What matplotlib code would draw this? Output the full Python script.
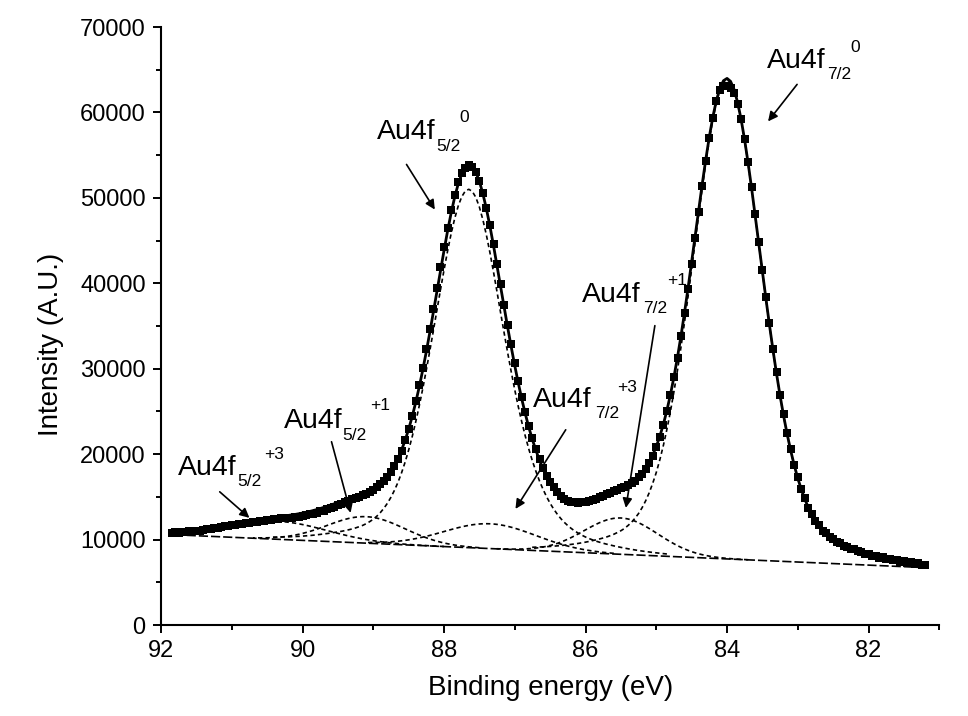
import numpy as np
import matplotlib
matplotlib.use("Agg")
import matplotlib.pyplot as plt
from matplotlib.ticker import MultipleLocator, FormatStrFormatter

plt.rcParams['font.family'] = ['Liberation Sans', 'DejaVu Sans']

# ---------------- data ----------------
energy_start = 81.20      # eV, first sample of the spectrum
energy_step = 0.05        # eV, instrument step
n_points = 214
energy = np.round(energy_start + energy_step * np.arange(n_points), 2)

intensity_data = [
    6980, 7060, 7240, 7150, 7320, 7290, 7460, 7430, 7620, 7560,
    7760, 7720, 7930, 7900, 8110, 8120, 8330, 8350, 8580, 8640,
    8850, 8920, 9180, 9260, 9560, 9700, 10060, 10250, 10740, 11050,
    11680, 12170, 12990, 13750, 14830, 15880, 17300, 18750, 20550, 22420,
    24650, 26950, 29600, 32350, 35300, 38400, 41600, 44850, 48100, 51250,
    54200, 56900, 59200, 61000, 62300, 62900, 63100, 63050, 62600, 61300,
    59400, 57050, 54300, 51400, 48400, 45300, 42300, 39300, 36500, 33800,
    31300, 29000, 26900, 25050, 23400, 22000, 20800, 19800, 18950, 18300,
    17700, 17300, 16900, 16650, 16400, 16200, 16000, 15850, 15700, 15500,
    15350, 15150, 14950, 14800, 14650, 14500, 14400, 14350, 14300, 14350,
    14400, 14550, 14800, 15100, 15550, 16100, 16750, 17500, 18400, 19400,
    20600, 21900, 23350, 24950, 26700, 28600, 30650, 32850, 35150, 37500,
    39900, 42300, 44650, 46850, 48850, 50600, 52000, 53050, 53650, 53800,
    53550, 52900, 51850, 50350, 48550, 46500, 44250, 41900, 39450, 37000,
    34600, 32300, 30100, 28050, 26200, 24450, 22950, 21600, 20400, 19450,
    18600, 17900, 17350, 16850, 16450, 16100, 15800, 15600, 15350, 15200,
    15000, 14850, 14700, 14500, 14350, 14200, 14050, 13850, 13700, 13600,
    13400, 13300, 13150, 13050, 12950, 12850, 12800, 12700, 12680, 12580,
    12560, 12480, 12470, 12400, 12380, 12300, 12290, 12200, 12180, 12090,
    12060, 11960, 11930, 11840, 11800, 11700, 11680, 11580, 11540, 11440,
    11400, 11310, 11280, 11180, 11160, 11060, 11050, 10970, 10960, 10880,
    10890, 10810, 10830, 10760,
]

fit_total = [
    7075, 7128, 7181, 7229, 7287, 7346, 7409, 7479, 7547, 7615,
    7703, 7781, 7869, 7959, 8057, 8166, 8274, 8392, 8531, 8659,
    8797, 8946, 9105, 9293, 9491, 9729, 9978, 10276, 10654, 11072,
    11591, 12180, 12898, 13736, 14715, 15863, 17177, 18695, 20404, 22332,
    24461, 26829, 29389, 32158, 35097, 38176, 41356, 44595, 47815, 50955,
    53957, 56713, 59149, 61158, 62680, 63634, 63982, 63716, 62845, 61411,
    59496, 57161, 54517, 51644, 48637, 45564, 42489, 39491, 36611, 33891,
    31360, 29058, 26961, 25118, 23489, 22087, 20883, 19897, 19059, 18379,
    17826, 17392, 17051, 16755, 16529, 16313, 16148, 15998, 15822, 15663,
    15482, 15313, 15142, 14974, 14824, 14667, 14551, 14477, 14434, 14446,
    14523, 14663, 14884, 15179, 15589, 16093, 16701, 17435, 18294, 19270,
    20422, 21679, 23096, 24678, 26418, 28310, 30353, 32539, 34816, 37187,
    39595, 42032, 44394, 46636, 48682, 50466, 51935, 53012, 53657, 53834,
    53544, 52789, 51612, 50057, 48207, 46111, 43833, 41467, 39044, 36637,
    34283, 32021, 29875, 27877, 26056, 24391, 22919, 21611, 20480, 19497,
    18681, 17982, 17401, 16924, 16527, 16198, 15926, 15707, 15511, 15338,
    15197, 15047, 14903, 14763, 14619, 14474, 14332, 14192, 14050, 13906,
    13768, 13636, 13508, 13394, 13287, 13194, 13105, 13025, 12952, 12887,
    12825, 12768, 12711, 12655, 12599, 12543, 12483, 12422, 12357, 12291,
    12218, 12146, 12070, 11991, 11911, 11830, 11749, 11668, 11588, 11506,
    11432, 11360, 11291, 11227, 11167, 11110, 11060, 11014, 10973, 10936,
    10905, 10878, 10857, 10841,
]

background_energy = [81.20, 91.85]
background_intensity = [6720, 10576]

# fitted components (including background), each starting at the given energy
comp_7_2_0_start = 81.20
comp_7_2_0 = [
    7055, 7108, 7161, 7209, 7267, 7326, 7389, 7457, 7525, 7593,
    7681, 7759, 7847, 7935, 8033, 8142, 8250, 8368, 8506, 8634,
    8772, 8921, 9079, 9267, 9465, 9703, 9951, 10249, 10627, 11045,
    11563, 12152, 12870, 13708, 14686, 15834, 17132, 18650, 20358, 22286,
    24414, 26782, 29341, 32109, 35047, 38125, 41303, 44541, 47759, 50897,
    53885, 56634, 59062, 61060, 62568, 63506, 63834, 63542, 62640, 61168,
    59206, 56815, 54103, 51151, 48049, 44867, 41665, 38523, 35481, 32579,
    29847, 27326, 24994, 22902, 21010, 19338, 17856, 16594, 15482, 14540,
    13738, 13056, 12504, 12022, 11640, 11298, 11037, 10825, 10623, 10461,
    10309, 10187, 10075, 9973, 9881, 9779, 9698, 9626, 9554, 9492,
    9440, 9388, 9346, 9294, 9262, 9230, 9199, 9172, 9150, 9128,
    9116, 9099, 9082,
]

comp_5_2_0_start = 84.85
comp_5_2_0 = [
    8312, 8355, 8398, 8446, 8494, 8547, 8600, 8658, 8721, 8784,
    8852, 8925, 9003, 9087, 9175, 9263, 9361, 9459, 9567, 9685,
    9813, 9961, 10119, 10298, 10506, 10734, 10992, 11290, 11628, 12016,
    12464, 12982, 13570, 14239, 15007, 15875, 16843, 17961, 19179, 20547,
    22065, 23733, 25551, 27520, 29638, 31856, 34175, 36543, 38951, 41299,
    43547, 45605, 47413, 48921, 50049, 50757, 51005, 50794, 50122, 49030,
    47558, 45786, 43764, 41552, 39240, 36858, 34476, 32134, 29863, 27691,
    25659, 23777, 22035, 20473, 19061, 17819, 16717, 15776, 14954, 14252,
    13660, 13158, 12736, 12384, 12102, 11860, 11658, 11506, 11364, 11243,
    11141, 11049, 10967, 10895, 10833, 10771, 10709, 10657, 10605, 10553,
    10511, 10469, 10438, 10406, 10379, 10357, 10340, 10323, 10311, 10300,
    10293, 10286, 10284,
]

comp_7_2_p1_start = 83.70
comp_7_2_p1 = [
    7636, 7659, 7682, 7708, 7736, 7766, 7800, 7839, 7883, 7934,
    7993, 8061, 8140, 8229, 8333, 8450, 8584, 8734, 8901, 9086,
    9288, 9508, 9741, 9988, 10244, 10507, 10773, 11037, 11294, 11539,
    11766, 11972, 12151, 12299, 12412, 12488, 12527, 12525, 12485, 12408,
    12296, 12153, 11983, 11792, 11583, 11362, 11135, 10905, 10678, 10458,
    10247, 10050, 9867, 9701, 9552, 9421, 9308, 9210, 9129, 9061,
    9008, 8965, 8934, 8911, 8896, 8888, 8886, 8888, 8894, 8903,
    8913, 8926, 8940,
]

comp_5_2_p1_start = 87.50
comp_5_2_p1 = [
    9046, 9078, 9112, 9151, 9195, 9244, 9300, 9362, 9433, 9513,
    9602, 9701, 9812, 9934, 10067, 10212, 10368, 10532, 10706, 10887,
    11073, 11262, 11450, 11635, 11816, 11986, 12144, 12286, 12410, 12513,
    12593, 12649, 12680, 12685, 12665, 12621, 12555, 12467, 12361, 12239,
    12105, 11961, 11812, 11660, 11507, 11357, 11212, 11074, 10946, 10827,
    10719, 10622, 10536, 10461, 10398, 10345, 10302, 10267, 10241, 10221,
    10208, 10201, 10198, 10200, 10204,
]

comp_7_2_p3_start = 85.60
comp_7_2_p3 = [
    8390, 8426, 8465, 8507, 8554, 8605, 8662, 8724, 8794, 8868,
    8950, 9040, 9136, 9241, 9353, 9472, 9599, 9732, 9872, 10017,
    10165, 10317, 10470, 10623, 10774, 10922, 11065, 11201, 11329, 11445,
    11549, 11641, 11717, 11777, 11820, 11847, 11856, 11849, 11825, 11785,
    11730, 11662, 11583, 11492, 11392, 11285, 11173, 11058, 10941, 10824,
    10708, 10596, 10487, 10385, 10288, 10197, 10114, 10038, 9969, 9909,
    9855, 9809, 9772, 9739, 9713, 9692, 9677, 9666, 9660, 9657,
    9657,
]

comp_5_2_p3_start = 88.00
comp_5_2_p3 = [
    9189, 9209, 9230, 9251, 9273, 9296, 9320, 9344, 9370, 9398,
    9427, 9458, 9491, 9527, 9567, 9608, 9653, 9702, 9754, 9810,
    9871, 9936, 10006, 10081, 10161, 10245, 10335, 10428, 10525, 10626,
    10730, 10836, 10944, 11053, 11162, 11269, 11375, 11478, 11577, 11672,
    11759, 11840, 11912, 11976, 12030, 12075, 12110, 12133, 12146, 12148,
    12139, 12121, 12093, 12057, 12012, 11961, 11904, 11841, 11774, 11704,
    11633, 11560, 11487, 11415, 11345, 11277, 11213, 11152, 11095, 11042,
    10994, 10950, 10911, 10877, 10848, 10823, 10803, 10788,
]

components = [
    (comp_7_2_0_start, comp_7_2_0),
    (comp_5_2_0_start, comp_5_2_0),
    (comp_7_2_p1_start, comp_7_2_p1),
    (comp_5_2_p1_start, comp_5_2_p1),
    (comp_7_2_p3_start, comp_7_2_p3),
    (comp_5_2_p3_start, comp_5_2_p3),
]

# annotation labels: (sub, sup, main text pos, sub pos, sup pos, arrow tail, arrow head)
annotations = [
    ("7/2", "0",  (83.44, 65160), (82.59, 63870), (82.25, 67030), (83.01, 63280), (83.42, 58950)),
    ("5/2", "0",  (88.955, 56840), (88.11, 55430), (87.78, 58830), (88.53, 53910), (88.13, 48630)),
    ("5/2", "+1", (90.256, 23090), (89.44, 21680), (89.05, 25200), (89.59, 21450), (89.32, 13130)),
    ("5/2", "+3", (91.755, 17580), (90.92, 16290), (90.54, 19450), (91.17, 15590), (90.75, 12540)),
    ("7/2", "+3", (86.748, 25550), (85.87, 24260), (85.56, 27310), (86.28, 22850), (86.99, 13590)),
    ("7/2", "+1", (86.055, 37850), (85.19, 36560), (84.85, 39850), (85.02, 35040), (85.43, 13710)),
]

# ---------------- figure ----------------
W, H = 968, 716
fig = plt.figure(figsize=(W / 100, H / 100), dpi=100)
ax = fig.add_axes([161 / W, 91 / H, (939.3 - 161) / W, (625 - 27) / H])

comp_style = dict(color='black', lw=1.2, linestyle=(0, (2.6, 1.9)))
for start, vals in components:
    i0 = int(round((start - energy_start) / energy_step))
    ax.plot(energy[i0:i0 + len(vals)], vals, **comp_style)

ax.plot(background_energy, background_intensity, color='black', lw=1.2,
        linestyle=(0, (5.5, 1.8)))

ax.plot(energy, intensity_data, linestyle='none', marker='s', markersize=6,
        markerfacecolor='black', markeredgewidth=0, color='black')
ax.plot(energy, fit_total, color='black', lw=2.0)

ax.set_xlim(92, 81)
ax.set_ylim(0, 70000)
ax.xaxis.set_major_locator(MultipleLocator(2))
ax.xaxis.set_minor_locator(MultipleLocator(1))
ax.yaxis.set_major_locator(MultipleLocator(10000))
ax.yaxis.set_minor_locator(MultipleLocator(5000))
ax.xaxis.set_major_formatter(FormatStrFormatter('%d'))
ax.yaxis.set_major_formatter(FormatStrFormatter('%d'))

for s in ('top', 'right'):
    ax.spines[s].set_visible(False)
for s in ('left', 'bottom'):
    ax.spines[s].set_linewidth(1.5)

ax.tick_params(which='major', direction='out', length=6, width=1.4,
               labelsize=17, pad=5)
ax.tick_params(which='minor', direction='out', length=3.5, width=1.4)

ax.set_xlabel('Binding energy (eV)', fontsize=20)
ax.set_ylabel('Intensity (A.U.)', fontsize=20)
ax.xaxis.set_label_coords(0.5, -0.083)
ax.yaxis.set_label_coords(-0.125, 0.47)

for sub, sup, pm, ps, pp, tail, head in annotations:
    ax.text(pm[0], pm[1], 'Au4f', fontsize=20.5, ha='left', va='baseline')
    ax.text(ps[0], ps[1], sub, fontsize=12.5, ha='left', va='baseline')
    ax.text(pp[0], pp[1], sup, fontsize=12.5, ha='left', va='baseline')
    ax.annotate('', xy=head, xytext=tail,
                arrowprops=dict(arrowstyle='-|>', color='black', lw=1.2,
                                mutation_scale=14, shrinkA=0, shrinkB=0))

fig.savefig('out.png', dpi=100)
